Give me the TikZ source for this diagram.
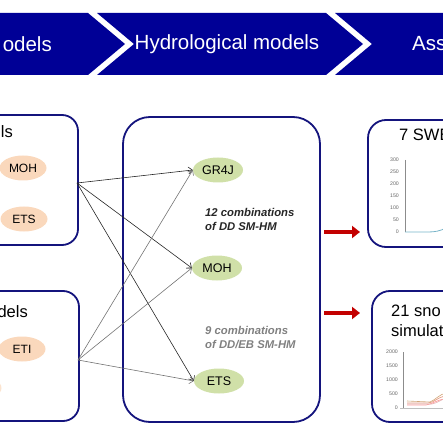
\documentclass[tikz,border=0pt]{standalone}
\usepackage{fontspec}
\setmainfont{Liberation Sans}
\usetikzlibrary{arrows.meta,shapes.geometric}
\definecolor{banner}{RGB}{0,0,150}
\definecolor{navyb}{RGB}{20,20,125}
\definecolor{peach}{RGB}{250,216,188}
\definecolor{sage}{RGB}{208,224,168}
\definecolor{redarr}{RGB}{195,0,0}
\definecolor{axisg}{RGB}{140,140,140}
\definecolor{lblue}{RGB}{120,180,200}
\begin{document}
\begin{tikzpicture}[x=1pt,y=-1pt,
  bannertext/.style={text=white,font=\fontsize{20.5}{24}\selectfont,inner sep=0pt},
  box/.style={draw=navyb,line width=1.8pt,rounded corners=16pt},
  bigbox/.style={draw=navyb,line width=1.8pt,rounded corners=27pt},
  boxtitle/.style={font=\fontsize{16.5}{20}\selectfont,inner sep=0pt,align=left},
  lell/.style={ellipse,fill=peach,minimum width=47pt,minimum height=25pt,inner sep=0pt,font=\fontsize{12}{14}\selectfont},
  mell/.style={ellipse,fill=sage,minimum width=50pt,minimum height=25pt,inner sep=0pt,font=\fontsize{12.5}{14}\selectfont},
  conA/.style={draw=black!85,line width=0.6pt,-{Straight Barb[length=4pt,width=7pt]}},
  conB/.style={draw=black!55,line width=0.6pt,-{Straight Barb[length=4pt,width=7pt]}},
  combo/.style={font=\fontsize{11.3}{13.5}\selectfont\bfseries\itshape,inner sep=0pt,align=left,anchor=west},
  redarrow/.style={draw=redarr,line width=4.5pt,-{Triangle[length=8pt,width=12pt]}},
  tick/.style={font=\fontsize{5.2}{6}\selectfont,text=black!60,inner sep=0pt,anchor=east}
]
\useasboundingbox (0,0) rectangle (443,443);
\clip (0,0) rectangle (443,443);

% banner chevrons
\fill[banner] (-10,13) -- (88,13) -- (125,44) -- (88,75) -- (-10,75) -- cycle;
\fill[banner] (97,13) -- (326,13) -- (363,44) -- (326,75) -- (97,75) -- (134,44) -- cycle;
\fill[banner] (335,13) -- (470,13) -- (470,75) -- (335,75) -- (372,44) -- cycle;
\node[bannertext,anchor=east] (b1) at (52,44) {odels};
\node[bannertext] (b2) at (227,44) {Hydrological models};
\node[bannertext,anchor=west] (b3) at (412,44) {Ass};

% left boxes
\draw[box] (-40,115) rectangle (78,245);
\draw[box] (-40,291) rectangle (79,421);
\node[boxtitle,anchor=east] (t1) at (13,132) {ls};
\node[boxtitle,anchor=east] (t2) at (28,312) {dels};
\node[lell] (moh1) at (23,168) {MOH};
\node[lell] (ets1) at (24,219) {ETS};
\node[lell] (eti2) at (22,349) {ETI};
\node[lell,fill=peach!70] (hid2) at (-22,388) {};

% middle box
\draw[bigbox] (123,117) rectangle (320,422);
\node[mell] (gr) at (218,170) {GR4J};
\node[mell] (moh) at (217,268) {MOH};
\node[mell] (ets) at (219,381) {ETS};
\node[combo,text=black!85] (c1) at (205,219.5) {12 combinations\\of DD SM-HM};
\node[combo,text=black!50] (c2) at (205,337.5) {9 combinations\\of DD/EB SM-HM};

% connectors
\coordinate (s1) at (77,183);
\coordinate (s2) at (78,360);
\draw[conA] (s1) -- (gr.west);
\draw[conA] (s1) -- (moh.west);
\draw[conA] (s1) -- (ets.west);
\draw[conB] (s2) -- (gr.west);
\draw[conB] (s2) -- (moh.west);
\draw[conB] (s2) -- (ets.west);

% red arrows
\coordinate (r1a) at (324,232);
\coordinate (r1b) at (360,232);
\coordinate (r2a) at (324,313);
\coordinate (r2b) at (360,313);
\draw[redarrow] (r1a) -- (r1b);
\draw[redarrow] (r2a) -- (r2b);

% right boxes
\draw[box,rounded corners=18pt] (368,120) rectangle (500,247);
\draw[box,rounded corners=18pt] (372,291) rectangle (500,422);
\node[boxtitle,anchor=west] (t3) at (399,135) {7 SWE};
\node[boxtitle,anchor=west] (t4) at (391,321) {21 sno\\simulat};

% chart 1
\draw[axisg,line width=0.5pt] (405,160) -- (405,232);
\draw[lblue,line width=0.8pt] (405,232) -- (428,232) .. controls (435,232) and (440,231) .. (446,228);
\foreach \v/\yy in {300/160,250/172,200/184,150/196,100/208,50/220,0/232}
  \node[tick] at (399,\yy) {\v};

% chart 2
\draw[axisg,line width=0.5pt] (403,352) -- (403,408);
\foreach \v/\yy in {2000/352,1500/366,1000/380,500/394,0/408}
  \node[tick] at (398,\yy) {\v};
\draw[black!25,line width=0.6pt] (400,408) -- (446,408);
\draw[red!30!brown!60,line width=0.7pt] (407,403) -- (428,403) .. controls (434,403) and (437,397) .. (446,396);
\draw[red!40!white,line width=0.7pt] (407,405) -- (426,405) .. controls (433,404) and (438,399) .. (446,399);
\draw[brown!70!white,line width=0.6pt] (407,401) -- (430,402) .. controls (435,400) and (440,394) .. (446,393);
\draw[pink!80!gray,line width=0.6pt] (407,404) -- (432,404) .. controls (437,403) and (441,400) .. (446,398);
\end{tikzpicture}
\end{document}
